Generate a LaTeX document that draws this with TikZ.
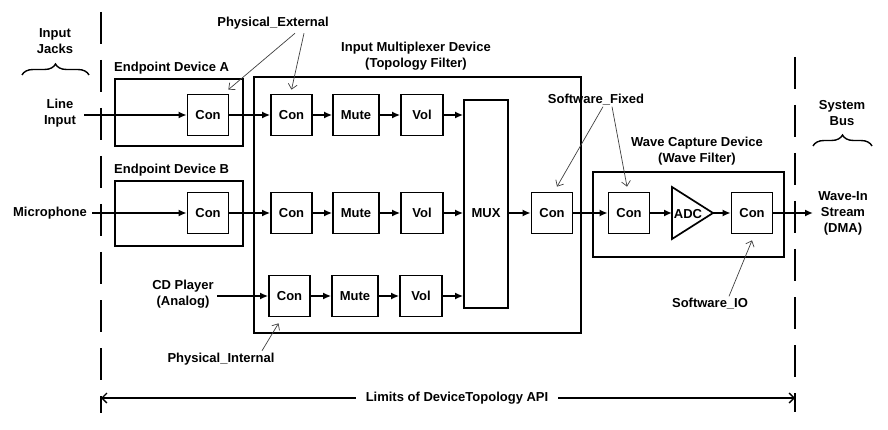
\documentclass[tikz,border=0pt]{standalone}
\usepackage{fontspec}
\setmainfont{Liberation Sans}
\usetikzlibrary{arrows.meta,decorations.pathreplacing}
\begin{document}
\begin{tikzpicture}[x=1pt,y=-1pt,
  font=\fontsize{13}{16}\selectfont\bfseries,
  blk/.style={draw, line width=1.7pt, inner sep=0pt, minimum height=41pt},
  con/.style={blk, minimum width=41pt},
  mutebox/.style={blk, minimum width=46pt},
  volbox/.style={blk, minimum width=42pt},
  flow/.style={line width=1.6pt, -{Latex[length=8pt,width=7pt]}},
  callout/.style={line width=0.7pt, draw=black!75, -{Straight Barb[length=5pt,width=9pt]}},
  framebox/.style={draw, line width=1.7pt, inner sep=0pt},
  bound/.style={line width=2pt, dash pattern=on 32pt off 16pt},
  lbl/.style={align=center, inner sep=1pt},
  bracestyle/.style={line width=1.4pt, decorate, decoration={brace, amplitude=11pt}},
]
\useasboundingbox (0,0) rectangle (888,430);

% boundaries
\coordinate (LT) at (101,12); \coordinate (LB) at (101,413);
\coordinate (RT) at (795,57); \coordinate (RB) at (795,412);
\draw[bound] (LT) -- (LB);
\draw[bound] (RT) -- (RB);

% frames
\node[framebox, minimum width=128pt, minimum height=67pt] (epA) at (179,112.5) {};
\node[framebox, minimum width=128pt, minimum height=65pt] (epB) at (179,213.5) {};
\node[framebox, minimum width=327pt, minimum height=256pt] (muxdev) at (417.5,205) {};
\node[framebox, minimum width=191pt, minimum height=85pt] (wavedev) at (688.5,214.5) {};

% frame labels
\node[lbl, anchor=west] (epAl) at (113,68) {Endpoint Device A};
\node[lbl, anchor=west] (epBl) at (113,170) {Endpoint Device B};
\node[lbl] (muxl) at (416,56) {Input Multiplexer Device\\(Topology Filter)};
\node[lbl] (wavel) at (697,151) {Wave Capture Device\\(Wave Filter)};

% side labels
\node[lbl] (jacks) at (55,41) {Input\\Jacks};
\coordinate (jbL) at (22,75); \coordinate (jbR) at (89,75);
\draw[bracestyle] (jbL) -- (jbR);
\node[lbl] (sysbus) at (842,113) {System\\Bus};
\coordinate (sbL) at (813,146); \coordinate (sbR) at (872,146);
\draw[bracestyle] (sbL) -- (sbR);

\node[lbl] (linein) at (60,113) {Line\\Input};
\node[lbl] (mic) at (50,213) {Microphone};
\node[lbl] (cd) at (183,294) {CD Player\\(Analog)};
\node[lbl] (wavein) at (843,213) {Wave-In\\Stream\\(DMA)};

\coordinate (lineinC) at (84,115);
\coordinate (micC) at (92,213);
\coordinate (cdC) at (217,296);
\coordinate (outC) at (813,213);

% blocks
\node[con] (conA) at (208,115) {Con};
\node[con] (conB) at (208,213) {Con};

\node[con] (c1) at (291.5,115) {Con};
\node[mutebox] (m1) at (356,115) {Mute};
\node[volbox] (v1) at (422,115) {Vol};

\node[con] (c2) at (291.5,213) {Con};
\node[mutebox] (m2) at (356,213) {Mute};
\node[volbox] (v2) at (422,213) {Vol};

\node[con] (c3) at (289.5,296) {Con};
\node[mutebox] (m3) at (355,296) {Mute};
\node[volbox] (v3) at (421,296) {Vol};

\node[blk, minimum width=44pt, minimum height=208pt] (mux) at (486,204) {};
\node[lbl] (muxt) at (486,213) {MUX};
\node[con] (cOut) at (552,213) {Con};

\node[con] (cw1) at (629,213) {Con};
\coordinate (adcA) at (672,187);
\coordinate (adcP) at (713,213);
\coordinate (adcB) at (672,239);
\coordinate (adcL) at (672,213);
\draw[line width=1.7pt, line join=miter] (adcA) -- (adcP) -- (adcB) -- cycle;
\node[lbl, inner sep=0pt] (adc) at (688,214) {ADC};
\node[con] (cw2) at (752,213) {Con};

% flows
\draw[flow] (lineinC) -- (conA.west);
\draw[flow] (conA) -- (c1);
\draw[flow] (c1) -- (m1);
\draw[flow] (m1) -- (v1);
\draw[flow] (v1.east) -- (v1.east -| mux.west);

\draw[flow] (micC) -- (conB.west);
\draw[flow] (conB) -- (c2);
\draw[flow] (c2) -- (m2);
\draw[flow] (m2) -- (v2);
\draw[flow] (v2.east) -- (v2.east -| mux.west);

\draw[flow] (cdC) -- (c3.west);
\draw[flow] (c3) -- (m3);
\draw[flow] (m3) -- (v3);
\draw[flow] (v3.east) -- (v3.east -| mux.west);

\draw[flow] (cOut.west -| mux.east) -- (cOut.west);
\draw[flow] (cOut) -- (cw1);
\draw[flow] (cw1.east) -- (adcL);
\draw[flow] (adcP) -- (cw2.west);
\draw[flow] (cw2.east) -- (outC);

% callouts
\node[lbl] (physExt) at (273,23) {Physical\_External};
\node[lbl] (swFixed) at (596,100) {Software\_Fixed};
\node[lbl] (physInt) at (221,359) {Physical\_Internal};
\node[lbl] (swIO) at (710,304) {Software\_IO};

\draw[callout] ([xshift=22pt,yshift=-3pt]physExt.south) -- ([xshift=-1pt,yshift=4pt]conA.north east);
\draw[callout] ([xshift=31pt,yshift=-3pt]physExt.south) -- ([yshift=4pt]c1.north);
\draw[callout] ([xshift=7pt]swFixed.south) -- ([xshift=5pt,yshift=5pt]cOut.north);
\draw[callout] ([xshift=16pt]swFixed.south) -- ([xshift=-2pt,yshift=5pt]cw1.north);
\draw[callout] ([xshift=19pt,yshift=1pt]swIO.north) -- ([yshift=-6pt]cw2.south);
\draw[callout] ([xshift=41pt,yshift=1pt]physInt.north) -- ([xshift=-11pt,yshift=-6pt]c3.south);

% limits
\node[lbl, inner xsep=10pt] (limits) at (457,398) {Limits of DeviceTopology API};
\draw[line width=1.4pt, -{Straight Barb[length=5pt,width=10pt]}] (limits.west) -- (LT |- limits.west);
\draw[line width=1.4pt, -{Straight Barb[length=5pt,width=10pt]}] (limits.east) -- (RT |- limits.east);
\end{tikzpicture}
\end{document}
